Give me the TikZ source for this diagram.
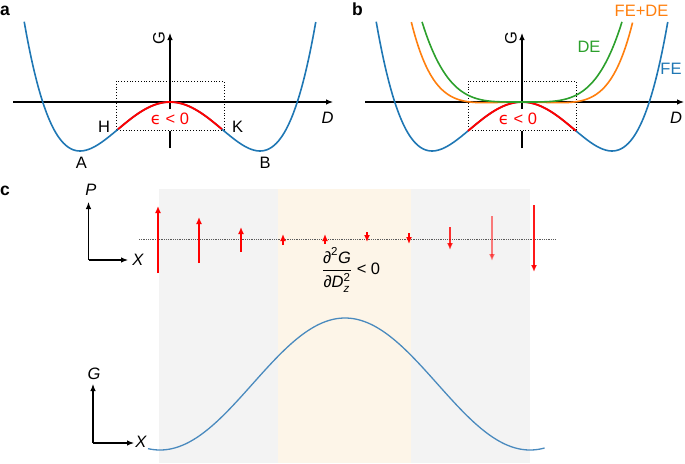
\documentclass[tikz,border=0pt]{standalone}
\usepackage{amsmath}
\usepackage{fontspec}
\setmainfont{Liberation Sans}
\newfontfamily\djv{DejaVu Sans}
\usetikzlibrary{arrows.meta}
\definecolor{cblue}{RGB}{31,119,180}
\definecolor{cgreen}{RGB}{44,160,44}
\definecolor{corange}{RGB}{255,127,14}
\definecolor{cred}{RGB}{255,0,0}
\definecolor{bggray}{RGB}{243,243,243}
\definecolor{bgorange}{RGB}{253,245,232}
\definecolor{cblue2}{RGB}{74,138,190}
\tikzset{
  ax/.style={line width=1.1pt, -{Latex[length=7pt,width=5.5pt]}},
  axplain/.style={line width=1.1pt},
  lbl/.style={font=\fontsize{16.5}{18}\selectfont, inner sep=0pt},
  ilbl/.style={font=\fontsize{16.5}{18}\selectfont\itshape, inner sep=0pt},
  panel/.style={font=\fontsize{17.5}{19}\selectfont\bfseries, inner sep=0pt, anchor=base west},
  curve/.style={line width=1.6pt},
  redcurve/.style={line width=1.9pt, cred},
  parr/.style={cred, line width=1.4pt, -{Latex[length=7pt,width=6pt]}},
  boxd/.style={dotted, line width=0.8pt},
}
\begin{document}
\begin{tikzpicture}[x=1pt,y=-1pt]
\useasboundingbox (0,0) rectangle (685,463);

% ---------------- panel a ----------------
\node[panel] (pa) at (0,15.5) {a};
\coordinate (aL) at (13,102);
\coordinate (aR) at (333,102);
\coordinate (aB) at (170,148);
\coordinate (aB2) at (170,131);
\coordinate (aT1) at (170,109);
\coordinate (aT) at (170,33);
\draw[ax] (aL) -- (aR);
\draw[axplain] (aB) -- (aB2);
\draw[ax] (aT1) -- (aT);
\draw[boxd] (116,81) rectangle (224,130);
\draw[curve, cblue, domain=-1.62:1.62, samples=120, smooth]
  plot ({170+90*\x},{102-49*((\x)*(\x)*(\x)*(\x)-2*(\x)*(\x))});
\draw[redcurve, domain=-0.577:0.577, samples=50, smooth]
  plot ({170+90*\x},{102-49*((\x)*(\x)*(\x)*(\x)-2*(\x)*(\x))});
\node[lbl, rotate=90] (aG) at (159,38) {G};
\node[ilbl] (aD) at (327.5,117.5) {D};
\node[lbl] (aH) at (104,126.5) {H};
\node[lbl] (aK) at (237.5,126.5) {K};
\node[lbl] (aA) at (81.5,162.5) {A};
\node[lbl] (aBl) at (265,162.5) {B};
\node[lbl, text=cred] (aeps) at (170,119) {{\djv ϵ} < 0};

% ---------------- panel b ----------------
\node[panel] (pb) at (352,15.5) {b};
\coordinate (bL) at (365,102);
\coordinate (bR) at (684,102);
\coordinate (bB) at (522,148);
\coordinate (bB2) at (522,131);
\coordinate (bT1) at (522,109);
\coordinate (bT) at (522,33);
\draw[ax] (bL) -- (bR);
\draw[axplain] (bB) -- (bB2);
\draw[ax] (bT1) -- (bT);
\draw[boxd] (468,81) rectangle (576,130);
\draw[curve, cblue, domain=-1.62:1.62, samples=120, smooth]
  plot ({522+90*\x},{102-49*((\x)*(\x)*(\x)*(\x)-2*(\x)*(\x))});
\draw[redcurve, domain=-0.6:0.6, samples=50, smooth]
  plot ({522+90*\x},{102-49*((\x)*(\x)*(\x)*(\x)-2*(\x)*(\x))});
\draw[curve, corange, domain=-1.19:1.19, samples=120, smooth]
  plot ({522+93*\x},{102-(20*(\x)*(\x)*(\x)*(\x)+18*(\x)*(\x)*(\x)*(\x)*(\x)*(\x)-8*(\x)*(\x))});
\draw[curve, cgreen, domain=-1.075:1.075, samples=120, smooth]
  plot ({522+93*\x},{102-60*(\x)*(\x)*(\x)*(\x)});
\node[lbl, rotate=90] (bG) at (511,38) {G};
\node[ilbl] (bD) at (676,117.5) {D};
\node[lbl, text=corange] (bFEDE) at (641.5,11) {FE+DE};
\node[lbl, text=cgreen] (bDE) at (589,46.5) {DE};
\node[lbl, text=cblue] (bFE) at (671,68.5) {FE};
\node[lbl, text=cred] (beps) at (518,119) {{\djv ϵ} < 0};

% ---------------- panel c ----------------
\fill[bggray] (159,189) rectangle (530,463);
\fill[bgorange] (278,189) rectangle (411,463);
\node[panel] (pc) at (0,195) {c};

\coordinate (pO) at (88.5,260);
\coordinate (pY) at (88.5,202);
\coordinate (pX) at (128,260);
\draw[ax] (pO) -- (pY);
\draw[ax] (pO) -- (pX);
\node[ilbl] (cP) at (91,190) {P};
\node[ilbl] (cX1) at (138,260) {X};

\coordinate (dl) at (139,239);
\coordinate (dr) at (556,239);
\draw[densely dotted, line width=0.8pt, black!65] (dl) -- (dr);

\foreach \i/\px/\ya/\yb/\op in {1/158/273/206/1, 2/199/263/217/1, 3/241/252/227/1,
  4/283/245/234/1, 5/325/244/234/1, 6/367/232/242/1, 7/409/233/244/1,
  8/450/227/250/0.8, 9/492/216/261/0.5, 10/534/205/272/0.9}{
  \coordinate (s\i) at (\px,\ya);
  \coordinate (e\i) at (\px,\yb);
  \draw[parr, draw opacity=\op, fill opacity=\op] (s\i) -- (e\i);
}

\node[lbl, font=\fontsize{16.5}{18}\selectfont] (frac) at (351,270)
  {$\dfrac{\text{∂}^{\text{2}}\textit{G}}{\text{∂}\textit{D}_{\textit{z}}^{\text{2}}}$ < 0};

\draw[cblue2, line width=1.3pt, domain=-1.065:1.081, samples=150, smooth]
  plot ({345+185*\x},{384-66*cos(180*\x)});

\coordinate (gO) at (93,443);
\coordinate (gY) at (93,384);
\coordinate (gX) at (134,443);
\draw[ax] (gO) -- (gY);
\draw[ax] (gO) -- (gX);
\node[ilbl] (cG) at (94,374) {G};
\node[ilbl] (cX2) at (141,442) {X};
\end{tikzpicture}
\end{document}
